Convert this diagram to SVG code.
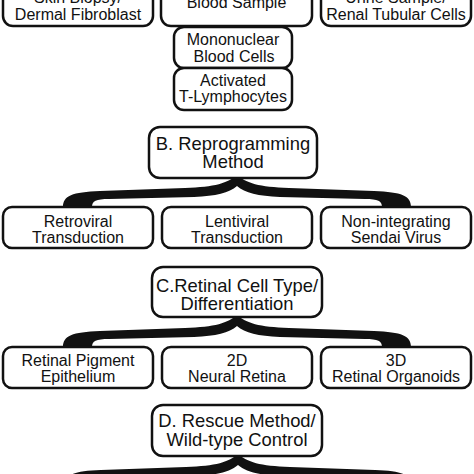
<svg xmlns="http://www.w3.org/2000/svg" width="474" height="474" viewBox="0 0 474 474">
<defs>
<style>
.box{fill:#fff;stroke:#111;stroke-width:2.5}
.t{font-family:"Liberation Sans",Arial,sans-serif;font-size:16px;fill:#111;text-anchor:middle}
.h{font-family:"Liberation Sans",Arial,sans-serif;font-size:18.4px;fill:#111;text-anchor:middle}
.brace{fill:#111;stroke:none}
</style>
<path id="br" class="brace" d="M63,207 C63,196 72,192 100,191 L185,188 C215,187 228,183 237,175 C246,183 259,187 289,188 L374,191 C402,192 411,196 411,207 L382,207 C382,201 378,199 365,199 L280,197 C258,196 245,193 237,186 C229,193 216,196 194,197 L109,199 C96,199 92,201 92,207 Z"/>
</defs>
<rect width="474" height="474" fill="#fff"/>
<g id="connectors">
<use href="#br"/>
<use href="#br" transform="translate(0,140)"/>
<use href="#br" transform="translate(1,279)"/>
</g>
<g id="skin"><rect class="box" x="3" y="-30" width="150" height="56" rx="10"/>
<text class="t" x="78" y="3">Skin Biopsy/</text><text class="t" x="78" y="20">Dermal Fibroblast</text></g>
<g id="blood"><rect class="box" x="161" y="-30" width="151" height="56" rx="10"/>
<text class="t" x="236.5" y="8">Blood Sample</text></g>
<g id="urine"><rect class="box" x="321" y="-30" width="150" height="56" rx="10"/>
<text class="t" x="396" y="3">Urine Sample/</text><text class="t" x="396" y="20">Renal Tubular Cells</text></g>
<g id="mono"><rect class="box" x="174" y="27" width="118" height="41" rx="10"/>
<text class="t" x="233" y="45">Mononuclear</text><text class="t" x="234" y="62">Blood Cells</text></g>
<g id="tlym"><rect class="box" x="174" y="68" width="118" height="42" rx="10"/>
<text class="t" x="233" y="86">Activated</text><text class="t" x="233" y="102">T-Lymphocytes</text></g>
<g id="B"><rect class="box" x="149" y="127" width="168" height="51" rx="11"/>
<text class="h" x="233" y="150">B. Reprogramming</text><text class="h" x="233" y="168">Method</text></g>
<g id="retro"><rect class="box" x="3" y="207" width="150" height="41" rx="9"/>
<text class="t" x="78" y="227">Retroviral</text><text class="t" x="78" y="243">Transduction</text></g>
<g id="lenti"><rect class="box" x="162" y="207" width="150" height="41" rx="9"/>
<text class="t" x="237" y="227">Lentiviral</text><text class="t" x="237" y="243">Transduction</text></g>
<g id="sendai"><rect class="box" x="321" y="207" width="150" height="41" rx="9"/>
<text class="t" x="396" y="227">Non-integrating</text><text class="t" x="396" y="243">Sendai Virus</text></g>
<g id="C"><rect class="box" x="152" y="267" width="170" height="50" rx="11"/>
<text class="h" x="237" y="291.5">C.Retinal Cell Type/</text><text class="h" x="237" y="309.5">Differentiation</text></g>
<g id="rpe"><rect class="box" x="3" y="347" width="150" height="41" rx="9"/>
<text class="t" x="78" y="366">Retinal Pigment</text><text class="t" x="78" y="382">Epithelium</text></g>
<g id="neural"><rect class="box" x="162" y="347" width="150" height="41" rx="9"/>
<text class="t" x="237" y="366">2D</text><text class="t" x="237" y="382">Neural Retina</text></g>
<g id="organoid"><rect class="box" x="321" y="347" width="150" height="41" rx="9"/>
<text class="t" x="396" y="366">3D</text><text class="t" x="396" y="382">Retinal Organoids</text></g>
<g id="D"><rect class="box" x="152" y="405" width="170" height="51" rx="11"/>
<text class="h" x="237" y="426.5">D. Rescue Method/</text><text class="h" x="237" y="445.5">Wild-type Control</text></g>
</svg>
